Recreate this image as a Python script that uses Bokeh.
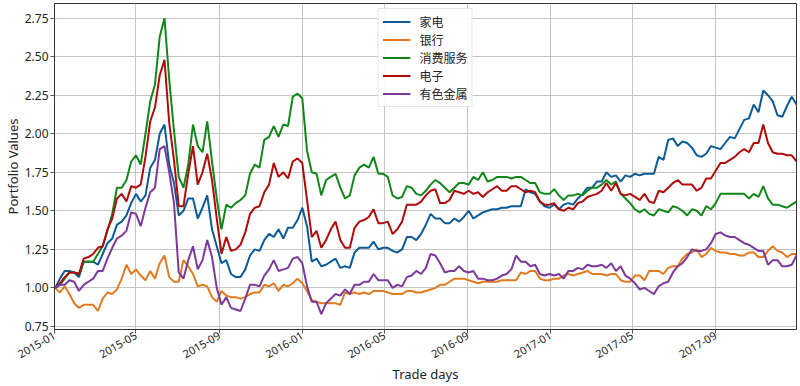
import math
import pandas as pd
from bokeh.plotting import figure
from bokeh.models import FixedTicker, DatetimeTickFormatter, PrintfTickFormatter, Legend, LegendItem, Range1d
from bokeh.embed import file_html
from bokeh.resources import INLINE

# ---------------- data ----------------
start_date = "2015-01-02"
n_weeks = 157
dates = pd.date_range(start_date, periods=n_weeks, freq="7D")

series_names = ["家电", "银行", "消费服务", "电子", "有色金属"]

jiadian = [1.00, 1.06, 1.11, 1.11, 1.10, 1.07, 1.17, 1.17, 1.17, 1.15, 1.22, 1.29, 1.32, 1.41, 1.43, 1.47, 1.55, 1.61, 1.56, 1.60,
           1.78, 1.83, 2.00, 2.06, 1.80, 1.68, 1.47, 1.50, 1.58, 1.58, 1.45, 1.52, 1.60, 1.38, 1.27, 1.16, 1.18, 1.09, 1.07, 1.07,
           1.12, 1.21, 1.25, 1.24, 1.31, 1.35, 1.33, 1.38, 1.32, 1.39, 1.39, 1.44, 1.52, 1.40, 1.17, 1.19, 1.14, 1.15, 1.17, 1.19,
           1.13, 1.14, 1.13, 1.23, 1.26, 1.26, 1.26, 1.30, 1.25, 1.26, 1.26, 1.24, 1.23, 1.25, 1.33, 1.33, 1.31, 1.35, 1.41, 1.48,
           1.45, 1.45, 1.42, 1.42, 1.45, 1.43, 1.46, 1.50, 1.45, 1.47, 1.49, 1.50, 1.51, 1.51, 1.52, 1.52, 1.53, 1.53, 1.53, 1.64,
           1.62, 1.61, 1.56, 1.53, 1.52, 1.54, 1.51, 1.54, 1.55, 1.54, 1.58, 1.61, 1.65, 1.65, 1.69, 1.69, 1.75, 1.72, 1.73, 1.69,
           1.73, 1.72, 1.74, 1.73, 1.74, 1.74, 1.74, 1.85, 1.83, 1.96, 1.97, 1.92, 1.95, 1.94, 1.91, 1.86, 1.85, 1.87, 1.92, 1.91,
           1.90, 1.94, 1.98, 1.97, 2.03, 2.09, 2.10, 2.19, 2.14, 2.28, 2.25, 2.21, 2.12, 2.11, 2.18, 2.24, 2.19]

yinhang = [1.00, 0.97, 1.01, 0.96, 0.90, 0.87, 0.89, 0.89, 0.89, 0.85, 0.93, 0.97, 0.96, 0.99, 1.06, 1.15, 1.09, 1.12, 1.08, 1.05,
           1.11, 1.06, 1.16, 1.21, 1.07, 1.04, 1.04, 1.18, 1.14, 1.09, 1.01, 1.02, 1.01, 0.94, 0.91, 0.98, 0.95, 0.94, 0.94, 0.93,
           0.94, 0.96, 0.97, 0.97, 1.02, 1.01, 1.03, 0.98, 1.02, 1.01, 1.03, 1.06, 1.03, 0.98, 0.92, 0.91, 0.90, 0.90, 0.90, 0.90,
           0.89, 0.97, 0.96, 0.97, 0.96, 0.97, 0.96, 0.98, 0.98, 0.98, 0.97, 0.96, 0.96, 0.96, 0.98, 0.98, 0.97, 0.97, 0.98, 0.99,
           1.00, 1.02, 1.02, 1.04, 1.06, 1.06, 1.06, 1.05, 1.04, 1.03, 1.04, 1.04, 1.04, 1.04, 1.05, 1.05, 1.05, 1.05, 1.10, 1.09,
           1.11, 1.11, 1.06, 1.05, 1.05, 1.06, 1.06, 1.08, 1.09, 1.08, 1.09, 1.10, 1.11, 1.09, 1.09, 1.09, 1.08, 1.09, 1.09, 1.05,
           1.04, 1.04, 1.08, 1.08, 1.05, 1.11, 1.11, 1.11, 1.09, 1.13, 1.14, 1.14, 1.19, 1.22, 1.23, 1.25, 1.20, 1.22, 1.26, 1.24,
           1.23, 1.23, 1.22, 1.22, 1.21, 1.21, 1.23, 1.23, 1.20, 1.20, 1.24, 1.27, 1.24, 1.23, 1.20, 1.22, 1.22]

xiaofei = [1.00, 1.02, 1.06, 1.10, 1.10, 1.09, 1.17, 1.17, 1.17, 1.22, 1.27, 1.37, 1.48, 1.65, 1.65, 1.70, 1.82, 1.86, 1.80, 2.00,
           2.21, 2.32, 2.63, 2.75, 2.35, 2.02, 1.72, 1.65, 1.80, 2.06, 1.92, 1.88, 2.08, 1.82, 1.58, 1.38, 1.54, 1.52, 1.55, 1.57,
           1.60, 1.74, 1.80, 1.78, 1.96, 1.98, 2.05, 1.98, 2.06, 2.05, 2.24, 2.26, 2.23, 1.89, 1.75, 1.74, 1.60, 1.70, 1.72, 1.74,
           1.65, 1.58, 1.60, 1.73, 1.78, 1.80, 1.78, 1.85, 1.74, 1.74, 1.72, 1.60, 1.58, 1.59, 1.66, 1.65, 1.61, 1.60, 1.63, 1.67,
           1.70, 1.68, 1.65, 1.62, 1.65, 1.68, 1.68, 1.67, 1.72, 1.70, 1.75, 1.69, 1.70, 1.72, 1.72, 1.72, 1.71, 1.72, 1.72, 1.70,
           1.68, 1.68, 1.62, 1.61, 1.61, 1.64, 1.60, 1.57, 1.60, 1.60, 1.61, 1.60, 1.63, 1.65, 1.65, 1.67, 1.70, 1.67, 1.69, 1.61,
           1.58, 1.55, 1.51, 1.49, 1.51, 1.48, 1.47, 1.51, 1.50, 1.49, 1.53, 1.52, 1.50, 1.47, 1.51, 1.50, 1.47, 1.53, 1.51, 1.55,
           1.61, 1.61, 1.61, 1.61, 1.61, 1.61, 1.58, 1.61, 1.59, 1.66, 1.58, 1.54, 1.54, 1.53, 1.52, 1.54, 1.56]

dianzi = [1.00, 1.03, 1.07, 1.10, 1.10, 1.09, 1.19, 1.20, 1.22, 1.26, 1.27, 1.38, 1.45, 1.58, 1.61, 1.56, 1.66, 1.65, 1.67, 1.85,
          2.08, 2.17, 2.38, 2.48, 2.07, 1.83, 1.53, 1.53, 1.74, 1.92, 1.67, 1.75, 1.87, 1.70, 1.45, 1.22, 1.33, 1.24, 1.25, 1.28,
          1.36, 1.48, 1.52, 1.53, 1.62, 1.67, 1.81, 1.72, 1.75, 1.71, 1.82, 1.84, 1.81, 1.57, 1.33, 1.37, 1.26, 1.31, 1.38, 1.43,
          1.31, 1.26, 1.26, 1.39, 1.43, 1.44, 1.46, 1.51, 1.42, 1.42, 1.43, 1.35, 1.38, 1.43, 1.54, 1.54, 1.54, 1.56, 1.60, 1.63,
          1.64, 1.55, 1.55, 1.57, 1.63, 1.62, 1.61, 1.63, 1.61, 1.62, 1.59, 1.62, 1.64, 1.66, 1.63, 1.63, 1.66, 1.66, 1.64, 1.62,
          1.63, 1.62, 1.56, 1.54, 1.54, 1.55, 1.51, 1.50, 1.52, 1.51, 1.55, 1.56, 1.59, 1.60, 1.61, 1.63, 1.68, 1.63, 1.68, 1.61,
          1.60, 1.61, 1.59, 1.57, 1.61, 1.56, 1.55, 1.63, 1.62, 1.65, 1.68, 1.70, 1.67, 1.67, 1.67, 1.63, 1.65, 1.71, 1.71, 1.76,
          1.81, 1.81, 1.83, 1.85, 1.88, 1.90, 1.88, 1.94, 1.94, 2.06, 1.94, 1.88, 1.87, 1.87, 1.86, 1.86, 1.82]

youse = [1.00, 1.02, 1.02, 1.05, 1.04, 0.98, 1.02, 1.04, 1.06, 1.11, 1.11, 1.19, 1.26, 1.32, 1.34, 1.37, 1.49, 1.48, 1.40, 1.52,
         1.62, 1.65, 1.90, 1.92, 1.75, 1.55, 1.10, 1.06, 1.18, 1.27, 1.12, 1.18, 1.31, 1.20, 1.00, 0.89, 0.94, 0.87, 0.86, 0.85,
         0.93, 1.02, 1.02, 1.01, 1.08, 1.12, 1.18, 1.11, 1.12, 1.13, 1.19, 1.20, 1.16, 1.01, 0.91, 0.91, 0.83, 0.90, 0.93, 0.96,
         0.95, 0.99, 0.96, 1.02, 1.02, 1.04, 1.04, 1.09, 1.05, 1.05, 1.05, 1.00, 1.02, 1.01, 1.07, 1.08, 1.11, 1.09, 1.13, 1.22,
         1.21, 1.16, 1.10, 1.11, 1.11, 1.14, 1.11, 1.10, 1.11, 1.06, 1.06, 1.05, 1.05, 1.06, 1.08, 1.09, 1.12, 1.21, 1.17, 1.17,
         1.14, 1.15, 1.09, 1.08, 1.09, 1.08, 1.09, 1.06, 1.11, 1.11, 1.13, 1.12, 1.15, 1.14, 1.14, 1.15, 1.13, 1.16, 1.11, 1.14,
         1.08, 1.06, 1.03, 0.99, 1.00, 0.98, 0.96, 1.01, 1.03, 1.04, 1.10, 1.14, 1.16, 1.20, 1.25, 1.24, 1.24, 1.25, 1.29, 1.35,
         1.36, 1.34, 1.33, 1.33, 1.31, 1.29, 1.28, 1.26, 1.24, 1.24, 1.15, 1.18, 1.18, 1.14, 1.14, 1.15, 1.21]

colors = ["#0c5a96", "#e07b22", "#11871a", "#b00a0a", "#7b3a9b"]

x_tick_labels = ["2015-01", "2015-05", "2015-09", "2016-01", "2016-05",
                 "2016-09", "2017-01", "2017-05", "2017-09"]
y_ticks = [0.75, 1.00, 1.25, 1.50, 1.75, 2.00, 2.25, 2.50, 2.75]

# ---------------- figure ----------------
p = figure(width=800, height=386, x_axis_type="datetime",
           output_backend="svg", toolbar_location=None,
           min_border_left=45, min_border_right=4, min_border_top=3, min_border_bottom=54)

p.x_range = Range1d(pd.Timestamp("2015-01-01"), dates[-1])
p.y_range = Range1d(0.73, 2.845)

all_series = [jiadian, yinhang, xiaofei, dianzi, youse]
items = []
for name, vals, col in zip(series_names, all_series, colors):
    r = p.line(dates, vals, line_color=col, line_width=2)
    items.append(LegendItem(label=name, renderers=[r]))

legend = Legend(items=items, location="top_center")
legend.label_text_font = "Noto Sans CJK SC"
legend.label_text_font_size = "12px"
legend.label_text_color = "#222222"
legend.glyph_width = 28
legend.glyph_height = 15
legend.label_height = 15
legend.spacing = 1
legend.padding = 4
legend.margin = 5
legend.label_standoff = 9
legend.border_line_color = "#cccccc"
legend.border_line_width = 1
legend.background_fill_alpha = 0.9
p.add_layout(legend, "center")

tick_ms = [pd.Timestamp(t + "-01").value / 1e6 for t in x_tick_labels]
p.xaxis.ticker = FixedTicker(ticks=tick_ms)
fmt = "%Y-%m"
p.xaxis.formatter = DatetimeTickFormatter(milliseconds=fmt, seconds=fmt, minsec=fmt, minutes=fmt,
                                          hourmin=fmt, hours=fmt, days=fmt, months=fmt, years=fmt)
p.xaxis.major_label_orientation = math.pi / 6
p.yaxis.ticker = FixedTicker(ticks=y_ticks)
p.yaxis.formatter = PrintfTickFormatter(format="%.2f")

p.xaxis.axis_label = "Trade days"
p.yaxis.axis_label = "Portfolio Values"
for ax in [p.xaxis, p.yaxis]:
    ax.axis_label_text_font = "Noto Sans"
    ax.axis_label_text_font_size = "13px"
    ax.axis_label_text_font_style = "normal"
    ax.axis_label_text_color = "#222222"
    ax.major_label_text_font = "Noto Sans"
    ax.major_label_text_font_size = "12px"
    ax.major_label_text_color = "#222222"
    ax.axis_line_color = "#333333"
    ax.major_tick_line_color = "#555555"
    ax.major_tick_out = 4
    ax.major_tick_in = 0
    ax.minor_tick_line_color = None
    ax.major_label_standoff = 2
p.xaxis.major_label_text_font_size = "11px"
p.xaxis.major_label_standoff = 1
p.xaxis.axis_label_standoff = 0
p.yaxis.axis_label_standoff = 0

p.xgrid.ticker = p.xaxis.ticker
p.ygrid.ticker = p.yaxis.ticker
p.grid.grid_line_color = "#c4c4c4"
p.grid.grid_line_width = 1
p.outline_line_color = "#333333"
p.outline_line_width = 1
p.background_fill_color = "white"
p.border_fill_color = "white"

open("out.html", "w").write(file_html(p, INLINE))
